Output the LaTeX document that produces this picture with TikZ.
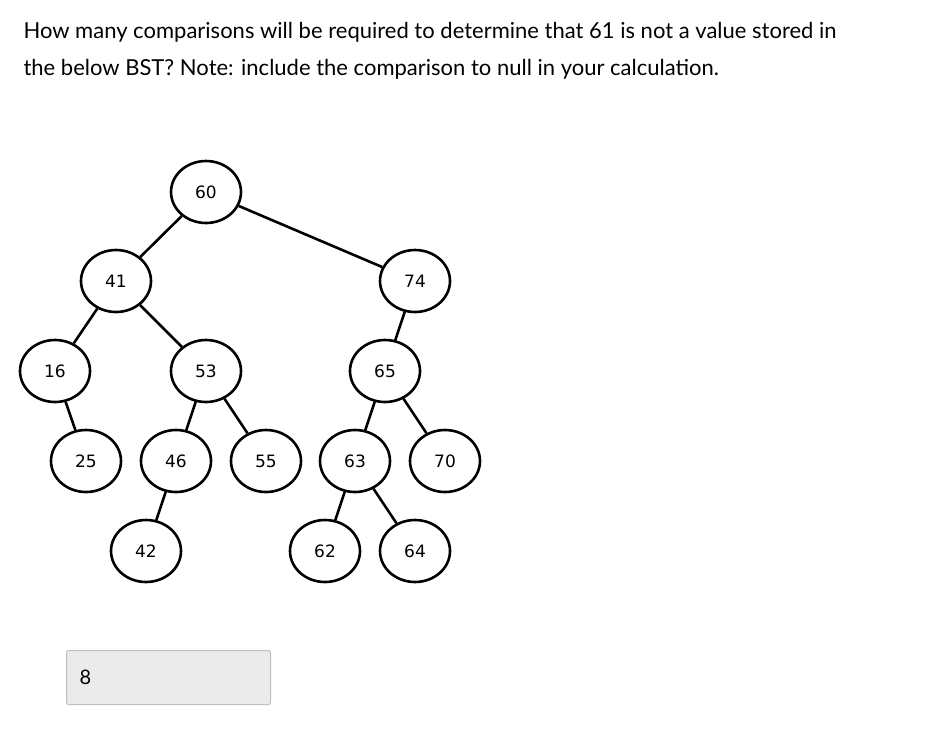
\documentclass[tikz,border=0pt]{standalone}
\usepackage{fontspec}
\usetikzlibrary{shapes.geometric}
\setmainfont{Lato}
\newfontfamily\numfont{DejaVu Sans}
\begin{document}
\begin{tikzpicture}[x=1pt,y=-1pt,
  bn/.style={draw,line width=2.6pt,ellipse,minimum width=70pt,minimum height=62pt,inner sep=0pt,fill=white,font=\numfont\fontsize{17}{17}\selectfont},
  ed/.style={line width=2.6pt}]
\useasboundingbox (0,0) rectangle (950,732);
\node[anchor=base west,font=\fontsize{22}{26}\selectfont] (q1) at (20,38) {How many comparisons will be required to determine that 61 is not a value stored in};
\node[anchor=base west,font=\fontsize{22}{26}\selectfont] (q2) at (20,75) {the below BST? Note: include the comparison to null in your calculation.};
\node[bn] (n60) at (206,192) {60};
\node[bn] (n41) at (116,281) {41};
\node[bn] (n74) at (415,281) {74};
\node[bn] (n16) at (55,371) {16};
\node[bn] (n53) at (206,371) {53};
\node[bn] (n65) at (385,371) {65};
\node[bn] (n25) at (86,461) {25};
\node[bn] (n46) at (176,461) {46};
\node[bn] (n55) at (266,461) {55};
\node[bn] (n63) at (355,461) {63};
\node[bn] (n70) at (445,461) {70};
\node[bn] (n42) at (146,551) {42};
\node[bn] (n62) at (325,551) {62};
\node[bn] (n64) at (415,551) {64};
\foreach \a/\b in {n60/n41,n60/n74,n41/n16,n41/n53,n16/n25,n53/n46,n53/n55,n74/n65,n65/n63,n65/n70,n46/n42,n63/n62,n63/n64}
  \draw[ed] (\a) -- (\b);
\node[draw=black!25,fill=black!8,rounded corners=2pt,minimum width=204pt,minimum height=54pt,line width=1pt,anchor=north west] (box) at (66,650) {};
\node[anchor=west,font=\fontsize{20}{24}\selectfont] (ans) at (76,677) {8};
\end{tikzpicture}
\end{document}
